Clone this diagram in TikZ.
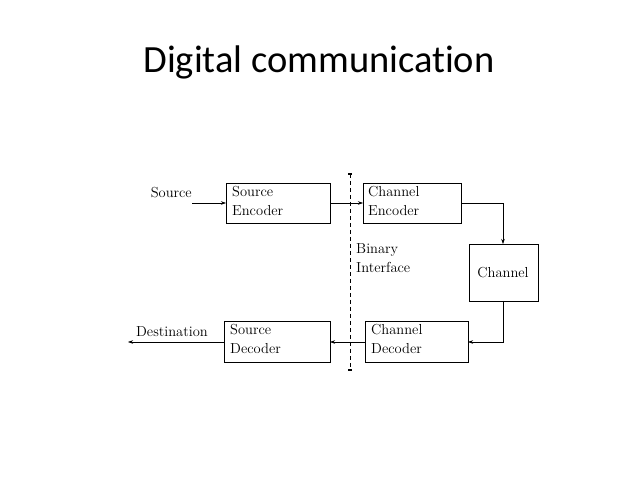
\documentclass[tikz,border=0pt]{standalone}
\usepackage{fontspec}
\newfontfamily\titlefont[Ligatures=NoCommon]{Carlito}
\usetikzlibrary{arrows.meta}
\begin{document}
\begin{tikzpicture}[x=1pt,y=-1pt,
  blk/.style={draw,line width=0.6pt},
  lbl/.style={anchor=north west,align=left,font=\fontsize{14.5}{19.5}\selectfont,inner sep=0pt},
  conn/.style={-{Stealth[length=5pt,width=3.5pt]},line width=0.5pt}]
\useasboundingbox (0,0) rectangle (638,478);
\node[font=\fontsize{38.5}{44}\titlefont] (title) at (319,62) {Digital communication};
\draw[blk] (226,183) rectangle (330,223);
\draw[blk] (363,183) rectangle (461,223);
\draw[blk] (469,244) rectangle (538,301);
\draw[blk] (224,321) rectangle (330,362);
\draw[blk] (365,321) rectangle (468,362);
\coordinate (seL) at (226,203); \coordinate (seR) at (330,203);
\coordinate (ceL) at (363,203); \coordinate (ceR) at (461,203);
\coordinate (chT) at (503,244); \coordinate (chB) at (503,301);
\coordinate (sdL) at (224,342); \coordinate (sdR) at (330,342);
\coordinate (cdL) at (365,342); \coordinate (cdR) at (468,342);
\node[lbl] (t1) at (232,186) {Source\\Encoder};
\node[lbl] (t2) at (368,186) {Channel\\Encoder};
\node[font=\fontsize{14.5}{16}\selectfont] (t3) at (503,273) {Channel};
\node[lbl] (t4) at (230,324) {Source\\Decoder};
\node[lbl] (t5) at (371,324) {Channel\\Decoder};
\node[lbl] (t6) at (356,243) {Binary\\Interface};
\node[font=\fontsize{14.5}{16}\selectfont,anchor=east,inner sep=1pt] (src) at (193,193) {Source};
\node[font=\fontsize{14.5}{16}\selectfont,anchor=east,inner sep=1pt] (dst) at (209,332) {Destination};
\coordinate (srcE) at (192,203); \coordinate (dstE) at (128,342);
\draw[line width=0.6pt,dash pattern=on 4pt off 3pt] (350,174) -- (350,370);
\draw[line width=1.5pt] (348,174) -- (352,174) (348,370) -- (352,370);
\draw[conn] (srcE) -- (seL);
\draw[conn] (seR) -- (ceL);
\draw[conn] (ceR) -| (chT);
\draw[conn] (chB) |- (cdR);
\draw[conn] (cdL) -- (sdR);
\draw[conn] (sdL) -- (dstE);
\end{tikzpicture}
\end{document}
